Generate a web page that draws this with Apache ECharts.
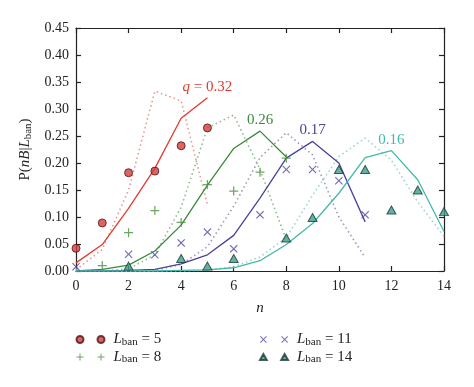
<!DOCTYPE html>
<html><head><meta charset="utf-8">
<script src="https://cdn.jsdelivr.net/npm/echarts@6/dist/echarts.min.js"></script>
<style>html,body{margin:0;padding:0;background:#fff}#c{width:474px;height:387px}</style>
</head><body><div id="c"></div>
<script>
// ---- data ----
const nTicks = [0, 2, 4, 6, 8, 10, 12, 14];
const yTicks = [0, 0.05, 0.10, 0.15, 0.20, 0.25, 0.30, 0.35, 0.40, 0.45];

// observed points: [n, P]
const obs5  = [[0,0.042],[1,0.089],[2,0.182],[3,0.185],[4,0.232],[5,0.265]];
const obs8  = [[1,0.010],[2,0.071],[3,0.112],[4,0.090],[5,0.160],[6,0.148],[7,0.183],[8,0.209]];
const obs11 = [[0,0.008],[2,0.031],[3,0.030],[4,0.052],[5,0.072],[6,0.041],[7,0.104],[8,0.188],[9,0.188],[10,0.167],[11,0.104]];
const obs14 = [[2,0.009],[4,0.023],[5,0.009],[6,0.023],[8,0.061],[9,0.099],[10,0.188],[11,0.188],[12,0.113],[13,0.150],[14,0.110]];

// solid model curves, index = n
const solid5  = [0.015,0.049,0.116,0.190,0.283,0.321];
const solid8  = [0.000,0.003,0.011,0.037,0.085,0.159,0.227,0.259,0.211];
const solid11 = [0.000,0.000,0.001,0.003,0.013,0.030,0.066,0.135,0.209,0.240,0.200,0.091];
const solid14 = [0.000,0.000,0.000,0.000,0.001,0.002,0.006,0.019,0.049,0.088,0.144,0.210,0.223,0.169,0.073];

// dotted model curves, index = n
const dot5  = [0.002,0.040,0.150,0.333,0.315,0.122];
const dot8  = [0.000,0.000,0.004,0.030,0.118,0.265,0.289,0.188,0.058];
const dot11 = [0.000,0.000,0.000,0.001,0.012,0.045,0.120,0.210,0.256,0.215,0.100,0.025];
const dot14 = [0.000,0.000,0.000,0.000,0.000,0.002,0.008,0.026,0.062,0.140,0.212,0.246,0.205,0.128,0.064];

// annotations: [text, n of the solid curve point]
const qLabels = [['q = 0.32',5],['0.26',7],['0.17',9],['0.16',12]];
const banVals = ['5','8','11','14'];

// ---- style ----
const F = 'Liberation Serif';
const C = {
  red:'#e53a2e', green:'#3b8a3b', blue:'#4a4398', teal:'#45b8ac',
  redD:'#e59a92', greenD:'#8bbd8b', blueD:'#9c99bd', tealD:'#9fd3ce'
};
const circleP = 'path://M0,5A5,5,0,1,0,10,5A5,5,0,1,0,0,5Z';
const plusP = 'path://M4.3,0H5.7V4.3H10V5.7H5.7V10H4.3V5.7H0V4.3H4.3Z';
const crossP = 'path://M0,1L1,0L5,4L9,0L10,1L6,5L10,9L9,10L5,6L1,10L0,9L4,5Z';
const triP = 'path://M5,0L10,9L0,9Z';
const circle2 = 'path://M0,3.5A3.5,3.5,0,1,0,7,3.5A3.5,3.5,0,1,0,0,3.5ZM21,3.5A3.5,3.5,0,1,0,28,3.5A3.5,3.5,0,1,0,21,3.5Z';
const plus2 = 'path://M3,0H4V3H7V4H4V7H3V4H0V3H3ZM24,0H25V3H28V4H25V7H24V4H21V3H24Z';
const cross2 = 'path://M0,0.7L0.7,0L3.5,2.8L6.3,0L7,0.7L4.2,3.5L7,6.3L6.3,7L3.5,4.2L0.7,7L0,6.3L2.8,3.5ZM22,0.7L22.7,0L25.5,2.8L28.3,0L29,0.7L26.2,3.5L29,6.3L28.3,7L25.5,4.2L22.7,7L22,6.3L24.8,3.5Z';
const tri2 = 'path://M3.5,0L7,6L0,6ZM25.5,0L29,6L22,6Z';

const idx = a => a.map((v,i)=>[i,v]);
function lineS(name, arr, color, dotted, lbl){
  const s = {type:'line', name, data: idx(arr), showSymbol:false, symbol:'none',
    lineStyle:{color, width: dotted?1.6:1.3, type: dotted?[1.5,3]:'solid'},
    itemStyle:{color}, z: dotted?2:3, silent:true, animation:false};
  if (lbl) {
    s.markPoint = {symbol:'circle', symbolSize:1, itemStyle:{color:'rgba(0,0,0,0)'},
      animation:false,
      data:[{coord:[lbl[1], arr[lbl[1]]], value: lbl[0],
        label:{show:true, position:'top', distance:3, color, fontFamily:F, fontSize:15,
          formatter: lbl[0].startsWith('q') ? '{q|q}{t| = 0.32}' : lbl[0],
          rich:{q:{fontStyle:'italic', fontFamily:F, fontSize:15, color}, t:{fontFamily:F, fontSize:15, color}}}}]};
  }
  return s;
}
const names = ['L5','L8','L11','L14'];
const series = [
  lineS('d5', dot5, C.redD, true), lineS('d8', dot8, C.greenD, true),
  lineS('d11', dot11, C.blueD, true), lineS('d14', dot14, C.tealD, true),
  lineS('s5', solid5, C.red, false, qLabels[0]), lineS('s8', solid8, C.green, false, qLabels[1]),
  lineS('s11', solid11, C.blue, false, qLabels[2]), lineS('s14', solid14, C.teal, false, qLabels[3]),
  {type:'scatter', name:'L5', data:obs5, symbol:circleP, symbolSize:8, z:5, animation:false,
    itemStyle:{color:'#d83b3b', borderColor:'#4a1515', borderWidth:1}},
  {type:'scatter', name:'L8', data:obs8, symbol:plusP, symbolSize:9, z:5, animation:false,
    itemStyle:{color:'#4a8f3f'}},
  {type:'scatter', name:'L11', data:obs11, symbol:crossP, symbolSize:8, z:5, animation:false,
    itemStyle:{color:'#4d4aa0'}},
  {type:'scatter', name:'L14', data:obs14, symbol:triP, symbolSize:[9,8], z:5, animation:false,
    itemStyle:{color:'#3aa08c', borderColor:'#1c3a34', borderWidth:1}}
];

const legTxt = name => '{i|L}{s|ban}{n| = ' + banVals[names.indexOf(name)] + '}';
const legRich = {
  i:{fontFamily:F, fontStyle:'italic', fontSize:15, color:'#222', padding:[0,0,0,4], lineHeight:16},
  s:{fontFamily:F, fontSize:11, color:'#222', verticalAlign:'bottom', lineHeight:8},
  n:{fontFamily:F, fontSize:15, color:'#222', lineHeight:16}
};
function legend(left, data, icons){
  return {left, top:332, padding:0, orient:'vertical', itemGap:2, itemWidth:28, itemHeight:7,
    data: data.map((d,i)=>({name:d, icon:icons[i]})), formatter: legTxt,
    textStyle:{rich: legRich}, selectedMode:false};
}

const axisCommon = {
  min:0, axisLine:{show:true, onZero:false, lineStyle:{color:'#222', width:1.2}},
  axisTick:{show:true, inside:true, length:5, lineStyle:{color:'#222', width:1.2}},
  splitLine:{show:false}
};
const option = {
  animation:false,
  grid:{left:76, right:30, top:28, bottom:116},
  xAxis:[
    Object.assign({}, axisCommon, {type:'value', max:14, interval:2, position:'bottom',
      axisLabel:{color:'#222', fontFamily:F, fontSize:14, margin:8},
      name:'n', nameLocation:'middle', nameGap:30,
      nameTextStyle:{fontFamily:F, fontStyle:'italic', fontSize:15, color:'#222'}}),
    Object.assign({}, axisCommon, {type:'value', max:14, interval:2, position:'top', axisLabel:{show:false}})
  ],
  yAxis:[
    Object.assign({}, axisCommon, {type:'value', max:0.45, interval:0.05, position:'left',
      axisLabel:{color:'#222', fontFamily:F, fontSize:14, margin:7, formatter:v=>v.toFixed(2)},
      name:'{a|P(}{b|nB}{a||}{b|L}{c|ban}{a|)}', nameLocation:'middle', nameGap:37, nameRotate:90,
      nameTextStyle:{rich:{
        a:{fontFamily:F, fontSize:15, color:'#222', lineHeight:18},
        b:{fontFamily:F, fontStyle:'italic', fontSize:15, color:'#222', lineHeight:18},
        c:{fontFamily:F, fontSize:11, color:'#222', verticalAlign:'bottom', lineHeight:10}}}}),
    Object.assign({}, axisCommon, {type:'value', max:0.45, interval:0.05, position:'right', axisLabel:{show:false}})
  ],
  legend:[legend(75.5, ['L5','L8'], [circle2, plus2]), legend(259, ['L11','L14'], [cross2, tri2])],
  series
};
const chart = echarts.init(document.getElementById('c'), null, {renderer:'canvas'});
chart.setOption(option);
</script></body></html>
